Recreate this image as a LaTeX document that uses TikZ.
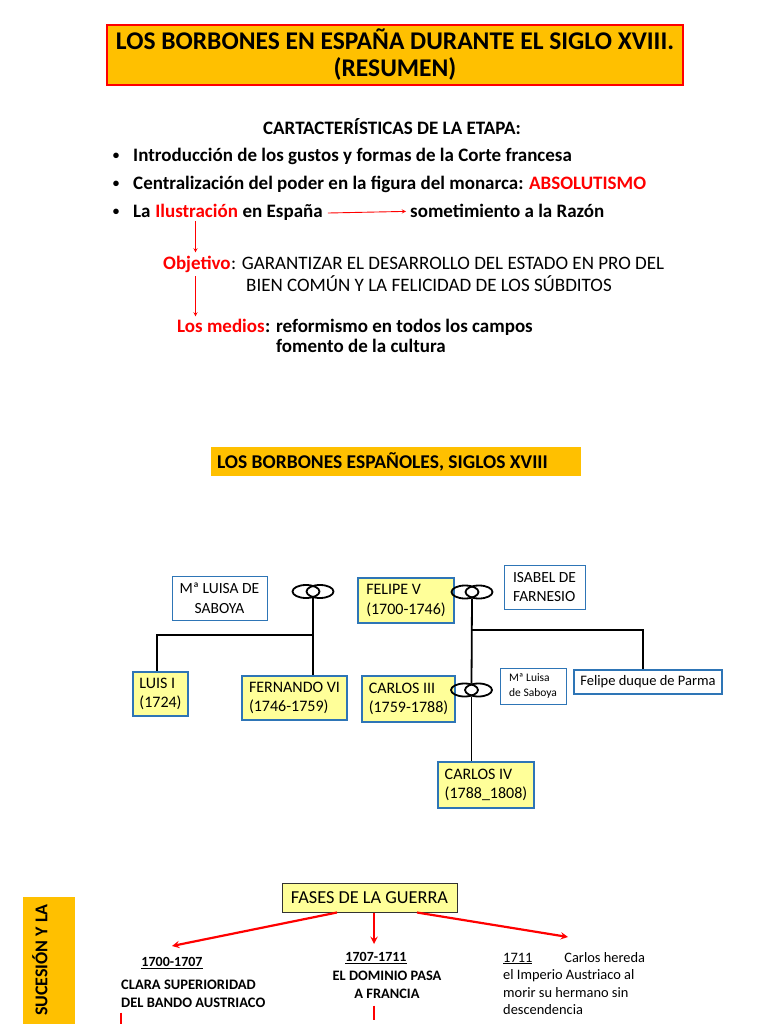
\documentclass[tikz,border=0pt]{standalone}
\usepackage{fontspec}
\setmainfont{Carlito}
\usetikzlibrary{positioning}

\definecolor{naranja}{RGB}{255,192,0}
\definecolor{amarillo}{RGB}{255,255,153}
\definecolor{azulborde}{RGB}{46,117,182}

\tikzset{
  rey/.style={draw=azulborde, line width=2.2pt, fill=amarillo, align=left, inner xsep=5pt,
    font=\fontsize{16}{19.5}\selectfont},
  consorte/.style={draw=azulborde, line width=1pt, fill=white, inner xsep=5pt,
    font=\fontsize{15.5}{19.5}\selectfont},
  rama/.style={line width=1.8pt},
  anillo/.style={line width=1.8pt},
  flecha/.style={red, line width=0.9pt, ->},
  flechag/.style={red, line width=2.2pt, ->},
  negrita/.style={inner sep=0pt, font=\bfseries\fontsize{19}{22}\selectfont},
  normal/.style={inner sep=0pt, font=\fontsize{19}{22}\selectfont},
  bala/.style={inner sep=0pt, font=\bfseries\fontsize{13}{15}\selectfont}
}

\begin{document}
\begin{tikzpicture}[x=1pt, y=-1pt, >=stealth]
  \useasboundingbox[fill=white] (0,0) rectangle (768,1024);

  % Titulo
  \node[draw=red, line width=1.2pt, fill=naranja, minimum width=576pt, minimum height=60pt,
    align=center, font=\bfseries\fontsize{25.5}{27}\selectfont] (titulo) at (395,55)
    {LOS BORBONES EN ESPAÑA DURANTE EL SIGLO XVIII.\\(RESUMEN)};

  % Caracteristicas
  \node[negrita] (caract) at (392,127) {CARTACTERÍSTICAS DE LA ETAPA:};
  \node[bala, anchor=base] (bala1) at (116,160) {•};
  \node[bala, anchor=base] (bala2) at (116,188) {•};
  \node[bala, anchor=base] (bala3) at (116,216) {•};
  \node[negrita, anchor=base west] (intro) at (133,162) {Introducción de los gustos y formas de la Corte francesa};
  \node[negrita, anchor=base west] (centra) at (133,190) {Centralización del poder en la figura del monarca: \textcolor{red}{ABSOLUTISMO}};
  \node[negrita, anchor=base west] (la) at (133,218) {La};
  \node[negrita, red, anchor=base west] (ilus) at ([xshift=4.3pt]la.base east) {Ilustración};
  \node[negrita, anchor=base west] (espana) at ([xshift=4.3pt]ilus.base east) {en España};
  \node[negrita, anchor=base west] (someti) at (410,218) {sometimiento a la Razón};
  \draw[flecha] ([xshift=5pt]espana.east) -- ([xshift=-4pt]someti.west);

  \node[negrita, red, anchor=base west] (objA) at (163,269) {Objetivo};
  \node[normal, anchor=base west] (objB) at (objA.base east) {: GARANTIZAR EL DESARROLLO DEL ESTADO EN PRO DEL};
  \node[normal, anchor=base west] (objC) at (246,291) {BIEN COMÚN Y LA FELICIDAD DE LOS SÚBDITOS};
  \node[negrita, red, anchor=base west] (medA) at (177,332) {Los medios};
  \node[negrita, anchor=base west] (medB) at (medA.base east) {: reformismo en todos los campos};
  \node[negrita, anchor=base west] (medC) at (276,352) {fomento de la cultura};
  \draw[flecha] ([yshift=-3pt]ilus.south -| 195.5,0) -- ([yshift=3pt]objA.north -| 195.5,0);
  \draw[flecha] ([yshift=-4pt]objA.south -| 195.5,0) -- ([yshift=2pt]medA.north -| 195.5,0);

  % Arbol genealogico
  \node[fill=naranja, minimum width=370pt, minimum height=29pt, inner sep=0pt] (borbones) at (396,461.5) {};
  \node[anchor=west, inner xsep=6pt, font=\bfseries\fontsize{19.5}{22}\selectfont] (borbonesT) at (borbones.west)
    {LOS BORBONES ESPAÑOLES, SIGLOS XVIII};

  \node[consorte, align=center, minimum width=95pt, minimum height=44pt] (luisaA) at (219.5,598) {Mª LUISA DE\\SABOYA};
  \node[rey, minimum width=96pt, minimum height=45pt] (felipeV) at (406,600.5) {FELIPE V\\(1700-1746)};
  \node[consorte, align=left, minimum width=81pt, minimum height=44pt] (isabel) at (544.5,587) {ISABEL DE\\FARNESIO};
  \node[rey, minimum width=55pt, minimum height=44pt] (luisI) at (160.5,694) {LUIS I\\(1724)};
  \node[rey, minimum width=105pt, minimum height=44pt] (fernando) at (294.5,698) {FERNANDO VI\\(1746-1759)};
  \node[rey, minimum width=93pt, minimum height=46pt] (carlosIII) at (408.5,699) {CARLOS III\\(1759-1788)};
  \node[consorte, align=left, minimum width=66pt, minimum height=36pt,
    font=\fontsize{11.5}{15}\selectfont] (luisaB) at (533,686) {Mª Luisa\\de Saboya};
  \node[consorte, line width=1.6pt, minimum width=148pt, minimum height=24pt,
    font=\fontsize{14.5}{17}\selectfont] (felipeP) at (648,682) {Felipe duque de Parma};
  \node[rey, minimum width=96pt, minimum height=46pt] (carlosIV) at (486,785) {CARLOS IV\\(1788\_1808)};

  % anillos
  \coordinate (anilloA) at (313,591.5);
  \coordinate (anilloB) at (472,592);
  \coordinate (anilloC) at (471.5,690);
  \foreach \a in {anilloA,anilloB,anilloC}{
    \draw[anillo] ([xshift=-7pt]\a) ellipse [x radius=13.5pt, y radius=6.5pt];
    \draw[anillo] ([xshift=7pt]\a) ellipse [x radius=13.5pt, y radius=6.5pt];
  }
  \coordinate (pieA) at (313,598);
  \coordinate (pieB) at (472,598.5);
  \coordinate (pieC) at (471.5,696.5);
  \coordinate (horqA) at (313,635);
  \coordinate (horqB) at (472,630);

  \draw[rama] (pieA) -- (pieA |- fernando.north);
  \draw[rama] ([xshift=-3.5pt]luisI.north) |- (horqA);
  \draw[rama] (pieB) -- (471.5,683.5);
  \draw[rama] (horqB) -| ([xshift=-5pt]felipeP.north);
  \draw[rama] (pieC) -- (pieC |- carlosIV.north);

  % Fases de la guerra
  \fill[naranja] (23,897) rectangle (75,1024);
  \node[rotate=90, anchor=east, inner sep=0pt, font=\bfseries\fontsize{18}{20}\selectfont] (sucesion) at (40,904) {SUCESIÓN Y LA};

  \node[draw=black!80, line width=1pt, fill=amarillo, minimum width=175pt, minimum height=29pt,
    font=\fontsize{18.3}{20}\selectfont] (fases) at (369.5,897.5) {FASES DE LA GUERRA};

  \node[inner sep=0pt, font=\bfseries\fontsize{14}{17}\selectfont] (fase1) at (172,963) {\underline{1700-1707}};
  \node[inner sep=0pt, anchor=north west, align=left, font=\bfseries\fontsize{14.5}{17.5}\selectfont] (clara) at (121,980)
    {CLARA SUPERIORIDAD\\DEL BANDO AUSTRIACO};
  \node[inner sep=0pt, font=\bfseries\fontsize{14}{17}\selectfont] (fase2) at (376,958) {\underline{1707-1711}};
  \node[inner sep=0pt, align=center, font=\bfseries\fontsize{14.4}{17.5}\selectfont] (dominio) at (387,985)
    {EL DOMINIO PASA\\A FRANCIA};
  \node[inner sep=0pt, anchor=north west, align=left, font=\fontsize{14.4}{17.5}\selectfont] (fase3) at (503,952)
    {\underline{1711}\hspace{32pt}Carlos hereda\\el Imperio Austriaco al\\morir su hermano sin\\descendencia};

  \coordinate (fin1) at (172,946);
  \coordinate (fin2) at (374,944);
  \coordinate (fin3) at (568,937);
  \draw[flechag] ([xshift=-32.5pt]fases.south) -- (fin1);
  \draw[flechag] ([xshift=4.5pt]fases.south) -- (fin2);
  \draw[flechag] ([xshift=47.5pt]fases.south) -- (fin3);

  \draw[red, line width=2.2pt] ([yshift=-5pt]clara.south west) -- ++(0,-12pt);
  \draw[red, line width=2.2pt] (dominio.south -| fin2) ++(0,-7pt) -- ++(0,-14pt);
\end{tikzpicture}
\end{document}
